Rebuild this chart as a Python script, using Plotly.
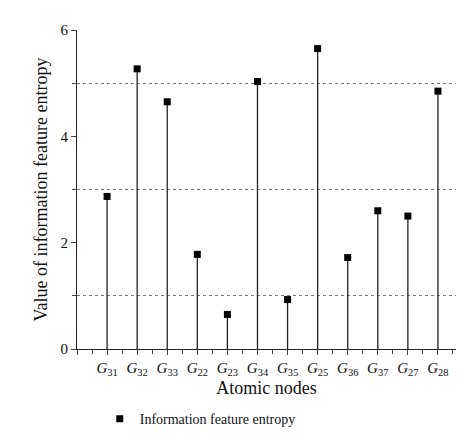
import plotly.graph_objects as go

nodes = ["31", "32", "33", "22", "23", "34", "35", "25", "36", "37", "27", "28"]
entropy = [2.87, 5.27, 4.65, 1.78, 0.65, 5.03, 0.93, 5.65, 1.72, 2.60, 2.50, 4.85]

xs = list(range(1, len(nodes) + 1))
labels = ["<i>G</i><sub>%s</sub>" % n for n in nodes]

fig = go.Figure()
fig.add_trace(go.Scatter(
    x=xs, y=entropy, mode="markers",
    marker=dict(symbol="square", size=7, color="black"),
    error_y=dict(type="data", symmetric=False, array=[0] * len(xs),
                 arrayminus=entropy, width=0, thickness=1.3, color="#222"),
    name="Information feature entropy",
))

font = dict(family="Liberation Serif, Times New Roman, serif", size=15, color="#111")
fig.update_layout(
    width=474, height=441, template="simple_white", font=font,
    margin=dict(l=69, r=26, t=22, b=100),
    showlegend=True,
    legend=dict(x=0.06, y=-0.17, xanchor="left", yanchor="top", font=dict(size=14)),
)
fig.update_xaxes(
    range=[0, 12.6], tickvals=[0] + xs, ticktext=[""] + labels,
    ticks="outside", ticklen=5, showline=True, linecolor="#222", showgrid=False,
    minor=dict(dtick=0.5, tick0=0.5, ticks="outside", ticklen=4),
    title=dict(text="Atomic nodes", standoff=2),
)
fig.update_yaxes(
    range=[0, 6], tickvals=[0, 2, 4, 6], ticks="outside", ticklen=5,
    showline=True, linecolor="#222", showgrid=False,
    minor=dict(tickvals=[1, 3, 5], ticks="outside", ticklen=4, showgrid=True,
               gridcolor="#777", griddash="dot", gridwidth=1),
    title=dict(text="Value of information feature entropy", standoff=8),
)
fig.write_html("out.html")
